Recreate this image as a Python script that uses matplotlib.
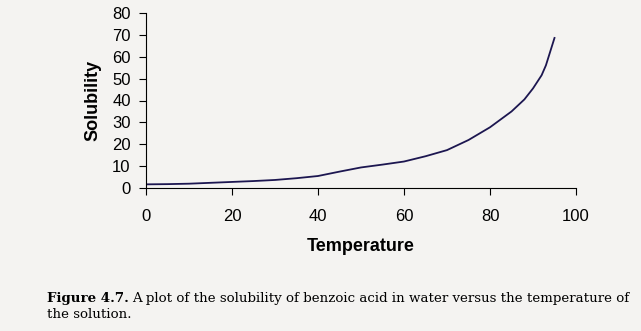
import numpy as np
import matplotlib.pyplot as plt

# values (temperature vs solubility)
temperature = [0, 5, 10, 15, 20, 25, 30, 35, 40, 45, 50, 55, 60, 65, 70, 75, 80, 85, 88, 90, 92, 93, 95]
solubility = [1.8, 1.9, 2.1, 2.5, 2.9, 3.3, 3.8, 4.6, 5.6, 7.6, 9.5, 10.8, 12.2, 14.6, 17.4, 22.0, 27.8, 35.0, 40.5, 45.5, 51.5, 56.0, 68.5]

x_ticks = [0, 20, 40, 60, 80, 100]
y_ticks = [0, 10, 20, 30, 40, 50, 60, 70, 80]

bg = '#f4f3f1'

fig = plt.figure(figsize=(6.41, 3.31), dpi=100, facecolor=bg)
W, H = 641, 331
ax = fig.add_axes([146 / W, 1 - 188.3 / H, (576 - 146) / W, (188.3 - 12.7) / H])
ax.set_facecolor(bg)

ax.plot(temperature, solubility, color='#1c1650', lw=1.3)

ax.set_xlim(0, 100)
ax.set_ylim(0, 80)
ax.set_xticks(x_ticks)
ax.set_yticks(y_ticks)
for s in ['top', 'right']:
    ax.spines[s].set_visible(False)
for s in ['left', 'bottom']:
    ax.spines[s].set_linewidth(0.8)
ax.tick_params(direction='out', length=5, width=0.8)
ax.tick_params(axis='x', pad=10)
ax.tick_params(axis='y', pad=6)
for lab in ax.get_xticklabels() + ax.get_yticklabels():
    lab.set_fontfamily('Liberation Sans')
    lab.set_fontsize(12)

ax.set_xlabel('Temperature', fontfamily='Liberation Sans', fontweight='bold', fontsize=13)
ax.set_ylabel('Solubility', fontfamily='Liberation Sans', fontweight='bold', fontsize=13)
ax.xaxis.set_label_coords(0.5, -(246.7 - 188.3) / (188.3 - 12.7))
ax.yaxis.set_label_coords(-(146 - 92.7) / (576 - 146), 0.5)
ax.xaxis.label.set_va('center')
ax.yaxis.label.set_va('center')

# caption: bold part then regular text
cap_font = 'DejaVu Serif'
cap_size = 9.6
x0 = 46.7
t1 = fig.text(x0 / W, 1 - 301.7 / H, 'Figure 4.7.', fontfamily=cap_font, fontweight='bold',
              fontsize=cap_size, va='baseline')
fig.canvas.draw()
bb = t1.get_window_extent()
fig.text(bb.x1 / W + 4 / W, 1 - 301.7 / H, 'A plot of the solubility of benzoic acid in water versus the temperature of',
         fontfamily=cap_font, fontsize=cap_size, va='baseline')
fig.text(x0 / W, 1 - 318.3 / H, 'the solution.', fontfamily=cap_font, fontsize=cap_size, va='baseline')

plt.savefig('out.png', dpi=100, facecolor=bg)
